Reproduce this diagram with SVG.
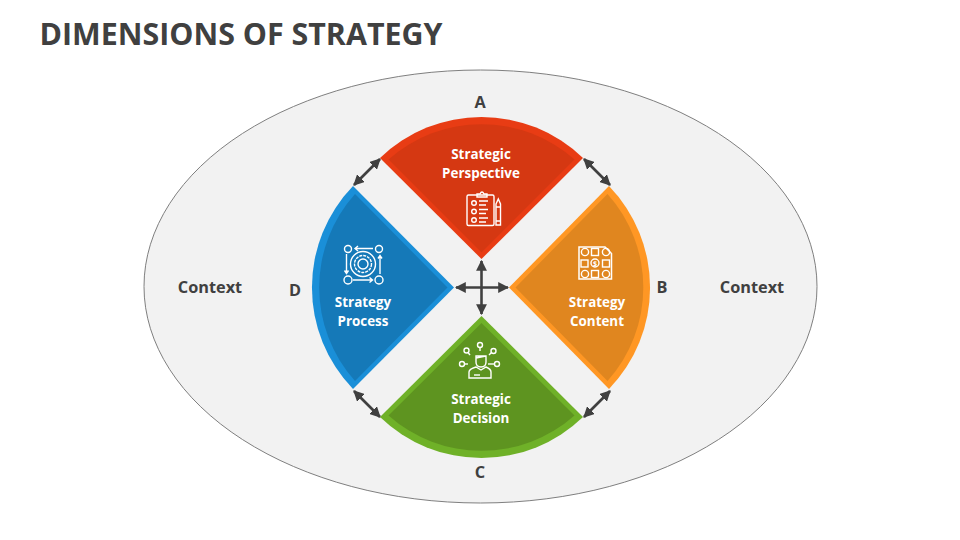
<svg xmlns="http://www.w3.org/2000/svg" width="960" height="540" viewBox="0 0 960 540">
<defs>
<marker id="ah" viewBox="0 0 10 10" refX="9" refY="5" markerWidth="4.2" markerHeight="4.2" orient="auto-start-reverse"><path d="M0 0L10 5L0 10Z" fill="#404040"/></marker>
</defs>
<style>
text{font-family:"Open Sans","Noto Sans","Liberation Sans",sans-serif;font-weight:700;text-anchor:middle}
.t{fill:#fff;font-size:13.4px}
.l{fill:#404040;font-size:16.3px}
.i{fill:none;stroke:#fff;stroke-width:1.4}
.c{fill:none;stroke:#404040;stroke-width:2.6;marker-start:url(#ah);marker-end:url(#ah)}
</style>
<rect width="960" height="540" fill="#fff"/>
<text x="241" y="45" style="font-size:29.5px;fill:#404040" textLength="403" lengthAdjust="spacingAndGlyphs">DIMENSIONS OF STRATEGY</text>
<ellipse id="context" cx="480.5" cy="286.5" rx="336.500" ry="216.500" fill="#f2f2f2" stroke="#7f7f7f" stroke-width="1"/>
<g id="connectors">
<path class="c" d="M354 185L380 159"/>
<path class="c" d="M584 159L610 185"/>
<path class="c" d="M354 391L380 417"/>
<path class="c" d="M610 391L584 417"/>
<path class="c" d="M481.500 261V314"/>
<path class="c" d="M456 287.500H508"/>
</g>
<g id="node-a">
<path d="M380 158A146 146 0 0 1 583 158L481.500 259Z" fill="#e83c14"/>
<path d="M388.500 159.500A140 140 0 0 1 574.500 159.500L481.500 252.500Z" fill="#d53812"/>
<text class="t" x="481" y="159">Strategic</text>
<text class="t" x="481" y="178">Perspective</text>
<g class="i"><rect x="467" y="195" width="27" height="30.500" rx="1.500"/><path d="M477 197V194H480Q482 190 484 194H487V197Z"/><circle cx="474" cy="203" r="2.300"/><circle cx="474" cy="211.500" r="2.300"/><circle cx="474" cy="220" r="2.300"/><path d="M479 201H488M479 205H486M479 209.500H488M479 213.500H486M479 218H488M479 222H486"/><path d="M496 204L498.300 199L500.500 204V225H496ZM496 207H500.500M496 221H500.500"/></g>
</g>
<g id="node-b">
<path d="M609 186A146 146 0 0 1 609 389L509 287.500Z" fill="#ff9724"/>
<path d="M607.500 194A140 140 0 0 1 607.500 381L515.500 287.500Z" fill="#e0861f"/>
<g class="i"><path d="M579 247H605L611.500 253.500V279H579Z" stroke-width="1.500"/><circle cx="585" cy="252" r="3.600"/><rect x="591.500" y="248.500" width="7" height="7"/><circle cx="606" cy="252" r="3.600"/><rect x="581" y="260" width="7" height="7"/><circle cx="595" cy="263" r="4"/><rect x="602.500" y="260" width="7" height="7"/><circle cx="585" cy="274" r="3.600"/><rect x="591.500" y="270.500" width="7" height="7"/><circle cx="606" cy="274" r="3.600"/></g>
<text x="595" y="266" style="font-size:7px;fill:#fff">$</text>
<text class="t" x="597" y="307">Strategy</text>
<text class="t" x="597" y="326">Content</text>
</g>
<g id="node-c">
<path d="M380 417L481.500 316L583 417A146 146 0 0 1 380 417Z" fill="#6fb128"/>
<path d="M388.500 415.500L481.500 323L574.500 415.500A140 140 0 0 1 388.500 415.500Z" fill="#5e9420"/>
<g class="i"><path d="M476 356L486 356V362Q486 367 481 367Q476 367 476 362ZM476 358L486 356"/><path d="M469 378V372Q469 369 476 367L481 370L486 367Q491 369 491 372V378Z"/><path d="M474 375H480"/><circle cx="480" cy="345" r="2.500"/><path d="M480 347.500V351"/><circle cx="466.500" cy="350.500" r="2.500"/><path d="M468 352.500L470 355"/><circle cx="493.500" cy="351" r="2.500"/><path d="M491.500 352.500L489 355"/><circle cx="462" cy="364" r="2.500"/><path d="M464.500 364H468"/><circle cx="497" cy="364" r="2.500"/><path d="M494.500 364H488"/></g>
<text class="t" x="481" y="404">Strategic</text>
<text class="t" x="481" y="423">Decision</text>
</g>
<g id="node-d">
<path d="M353 186L454 287.500L353 389A146 146 0 0 1 353 186Z" fill="#1a8fd8"/>
<path d="M355 194L447.500 287.500L355 381A140 140 0 0 1 355 194Z" fill="#1579b8"/>
<g class="i"><circle cx="348" cy="249" r="3.500"/><circle cx="379" cy="249" r="3.500"/><circle cx="348" cy="280" r="4"/><circle cx="379" cy="280" r="4"/><circle cx="363" cy="264" r="12.500"/><circle cx="363" cy="264" r="8.500" stroke-dasharray="3 1"/><circle cx="363" cy="264" r="5"/><path d="M373 248.500H355M358 246L355 248.500L358 251M346.500 254V273M344.500 270.500L346.500 273.500L348.500 270.500M353 280H372M369.500 277.500L372.500 280L369.500 282.500M380 274V256M378 258.500L380 255.500L382 258.500"/></g>
<text class="t" x="363" y="307">Strategy</text>
<text class="t" x="363" y="326">Process</text>
</g>
<text class="l" x="480" y="108">A</text>
<text class="l" x="662" y="293">B</text>
<text class="l" x="480" y="478">C</text>
<text class="l" x="295" y="296">D</text>
<text class="l" x="210" y="293">Context</text>
<text class="l" x="752" y="293">Context</text>
</svg>
